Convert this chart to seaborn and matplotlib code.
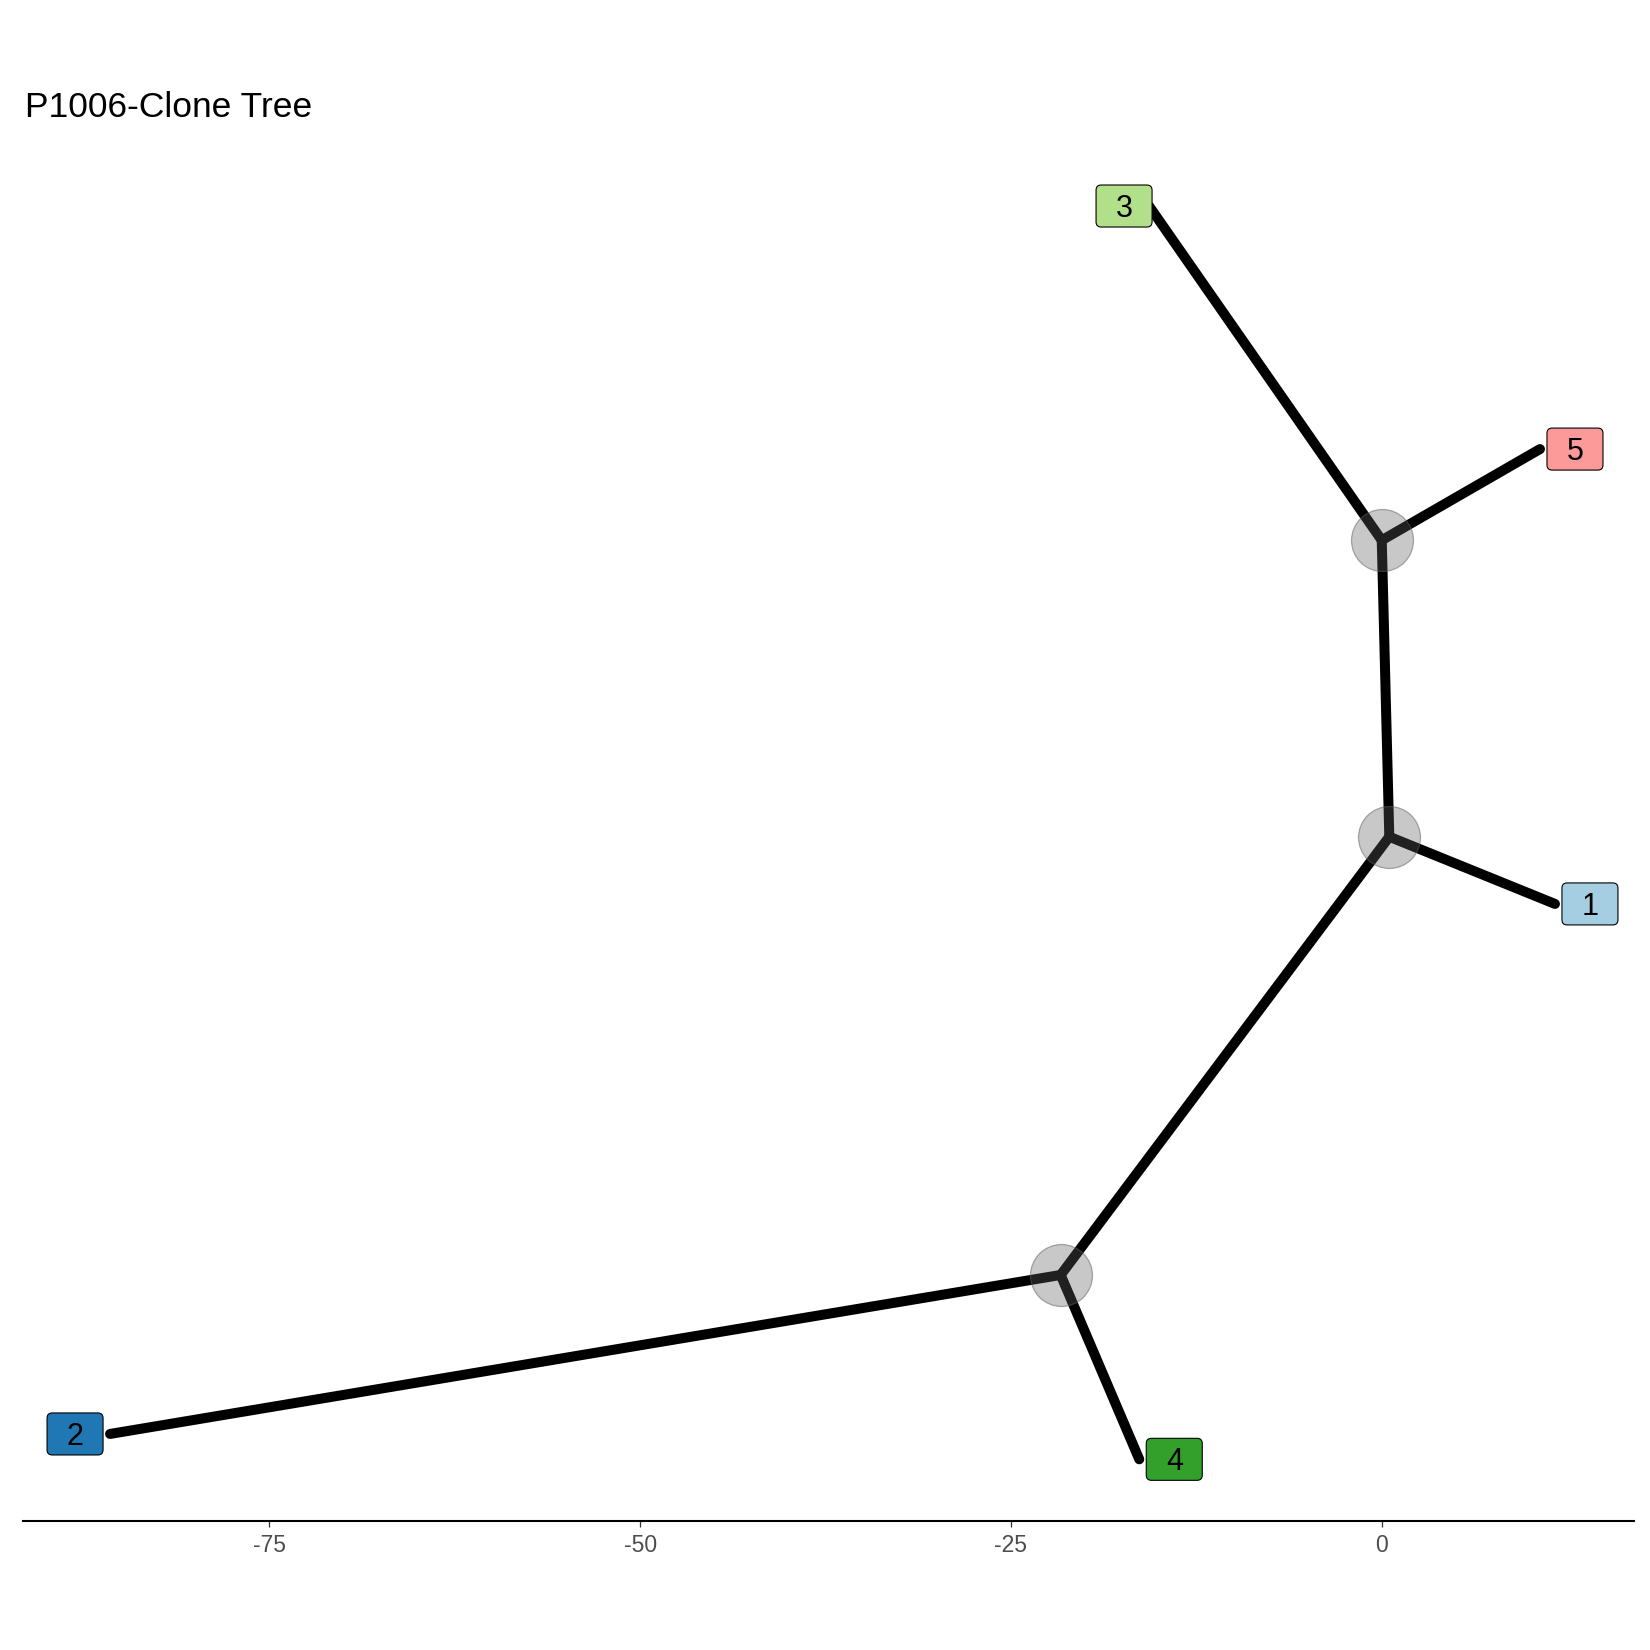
import numpy as np
import pandas as pd
import matplotlib
matplotlib.use("Agg")
import matplotlib.pyplot as plt
from matplotlib.path import Path
import seaborn as sns

# ---------------- data ----------------
clone_labels = ["1", "2", "3", "4", "5"]
clone_x = [11.68, -85.75, -15.69, -16.35, 10.67]
clone_y = [41.61, 5.87, 88.67, 4.16, 72.28]
clone_colors = ["#A6CEE3", "#1F78B4", "#B2DF8A", "#33A02C", "#FB9A99"]

internal_names = ["n1", "n2", "n3"]
internal_x = [0.00, 0.51, -21.65]
internal_y = [66.13, 46.14, 16.59]

edge_from = ["n1", "n1", "n1", "n2", "n2", "n3", "n3"]
edge_to = ["3", "5", "n2", "1", "n3", "2", "4"]

tick_values = [-75, -50, -25, 0]
tick_labels = ["-75", "-50", "-25", "0"]
title_text = "P1006-Clone Tree"

# label placement relative to its node (points) - styling only
label_dx = [25.2, -25.2, -18.0, 25.2, 25.2]

# ---------------- style ----------------
sns.set_style("white")
plt.rcParams["font.family"] = ["Liberation Sans", "DejaVu Sans"]
plt.rcParams["axes.unicode_minus"] = False

W = H = 1650
fig = plt.figure(figsize=(16.5, 16.5), dpi=100)
ax = fig.add_axes([23 / W, 1 - 1521 / H, (1634 - 23) / W, (1521 - 145.5) / H])

pos = {n: (x, y) for n, x, y in zip(clone_labels, clone_x, clone_y)}
pos.update({n: (x, y) for n, x, y in zip(internal_names, internal_x, internal_y)})

rows = []
for i, (a, b) in enumerate(zip(edge_from, edge_to)):
    rows.append({"edge": i, "x": pos[a][0], "y": pos[a][1]})
    rows.append({"edge": i, "x": pos[b][0], "y": pos[b][1]})
edges_df = pd.DataFrame(rows)

sns.lineplot(data=edges_df, x="x", y="y", units="edge", estimator=None, sort=False,
             color="black", linewidth=7.2, solid_capstyle="round", legend=False,
             ax=ax, zorder=2)

int_df = pd.DataFrame({"x": internal_x, "y": internal_y})
sns.scatterplot(data=int_df, x="x", y="y", s=1990, color="#5E5E5E", ax=ax,
                legend=False, zorder=3)
coll = ax.collections[-1]
coll.set_facecolor((0.37, 0.37, 0.37, 0.34))
coll.set_edgecolor((0.37, 0.37, 0.37, 0.5))
coll.set_linewidth(0.9)


def label_box(x0, y0, width, height, mutation_size):
    ms = mutation_size
    cx = x0 + width / 2.0
    cy = y0 + height / 2.0 + 0.095 * ms
    w = 1.833 * ms
    h = 1.375 * ms
    r = 0.17 * ms
    l, rr, b, t = cx - w / 2, cx + w / 2, cy - h / 2, cy + h / 2
    verts = [
        (l + r, b), (rr - r, b), (rr, b), (rr, b + r), (rr, t - r), (rr, t),
        (rr - r, t), (l + r, t), (l, t), (l, t - r), (l, b + r), (l, b),
        (l + r, b), (l + r, b),
    ]
    codes = [
        Path.MOVETO, Path.LINETO, Path.CURVE3, Path.CURVE3, Path.LINETO, Path.CURVE3,
        Path.CURVE3, Path.LINETO, Path.CURVE3, Path.CURVE3, Path.LINETO, Path.CURVE3,
        Path.CURVE3, Path.CLOSEPOLY,
    ]
    return Path(verts, codes)


for lab, x, y, col, dx in zip(clone_labels, clone_x, clone_y, clone_colors, label_dx):
    ax.annotate(lab, xy=(x, y), xytext=(dx, -2.1), textcoords="offset points",
                ha="center", va="center", fontsize=22, color="black", zorder=5,
                bbox=dict(boxstyle=label_box, fc=col, ec="black", lw=0.8))

ax.set_xlim(-91.62, 17.01)
ax.set_ylim(0, 92.75)
ax.set_xticks(tick_values)
ax.set_xticklabels(tick_labels)
ax.set_yticks([])
ax.set_xlabel("")
ax.set_ylabel("")
for s in ["left", "top", "right"]:
    ax.spines[s].set_visible(False)
ax.spines["bottom"].set_color("black")
ax.spines["bottom"].set_linewidth(1.5)
ax.tick_params(axis="x", bottom=True, length=4, width=0.9, color="#333333",
               labelsize=16.5, labelcolor="#4D4D4D", pad=5)
ax.grid(False)

fig.text(25 / W, 1 - 117 / H, title_text, fontsize=25.5, ha="left", va="baseline",
         color="black")

fig.savefig("out.png", dpi=100)
